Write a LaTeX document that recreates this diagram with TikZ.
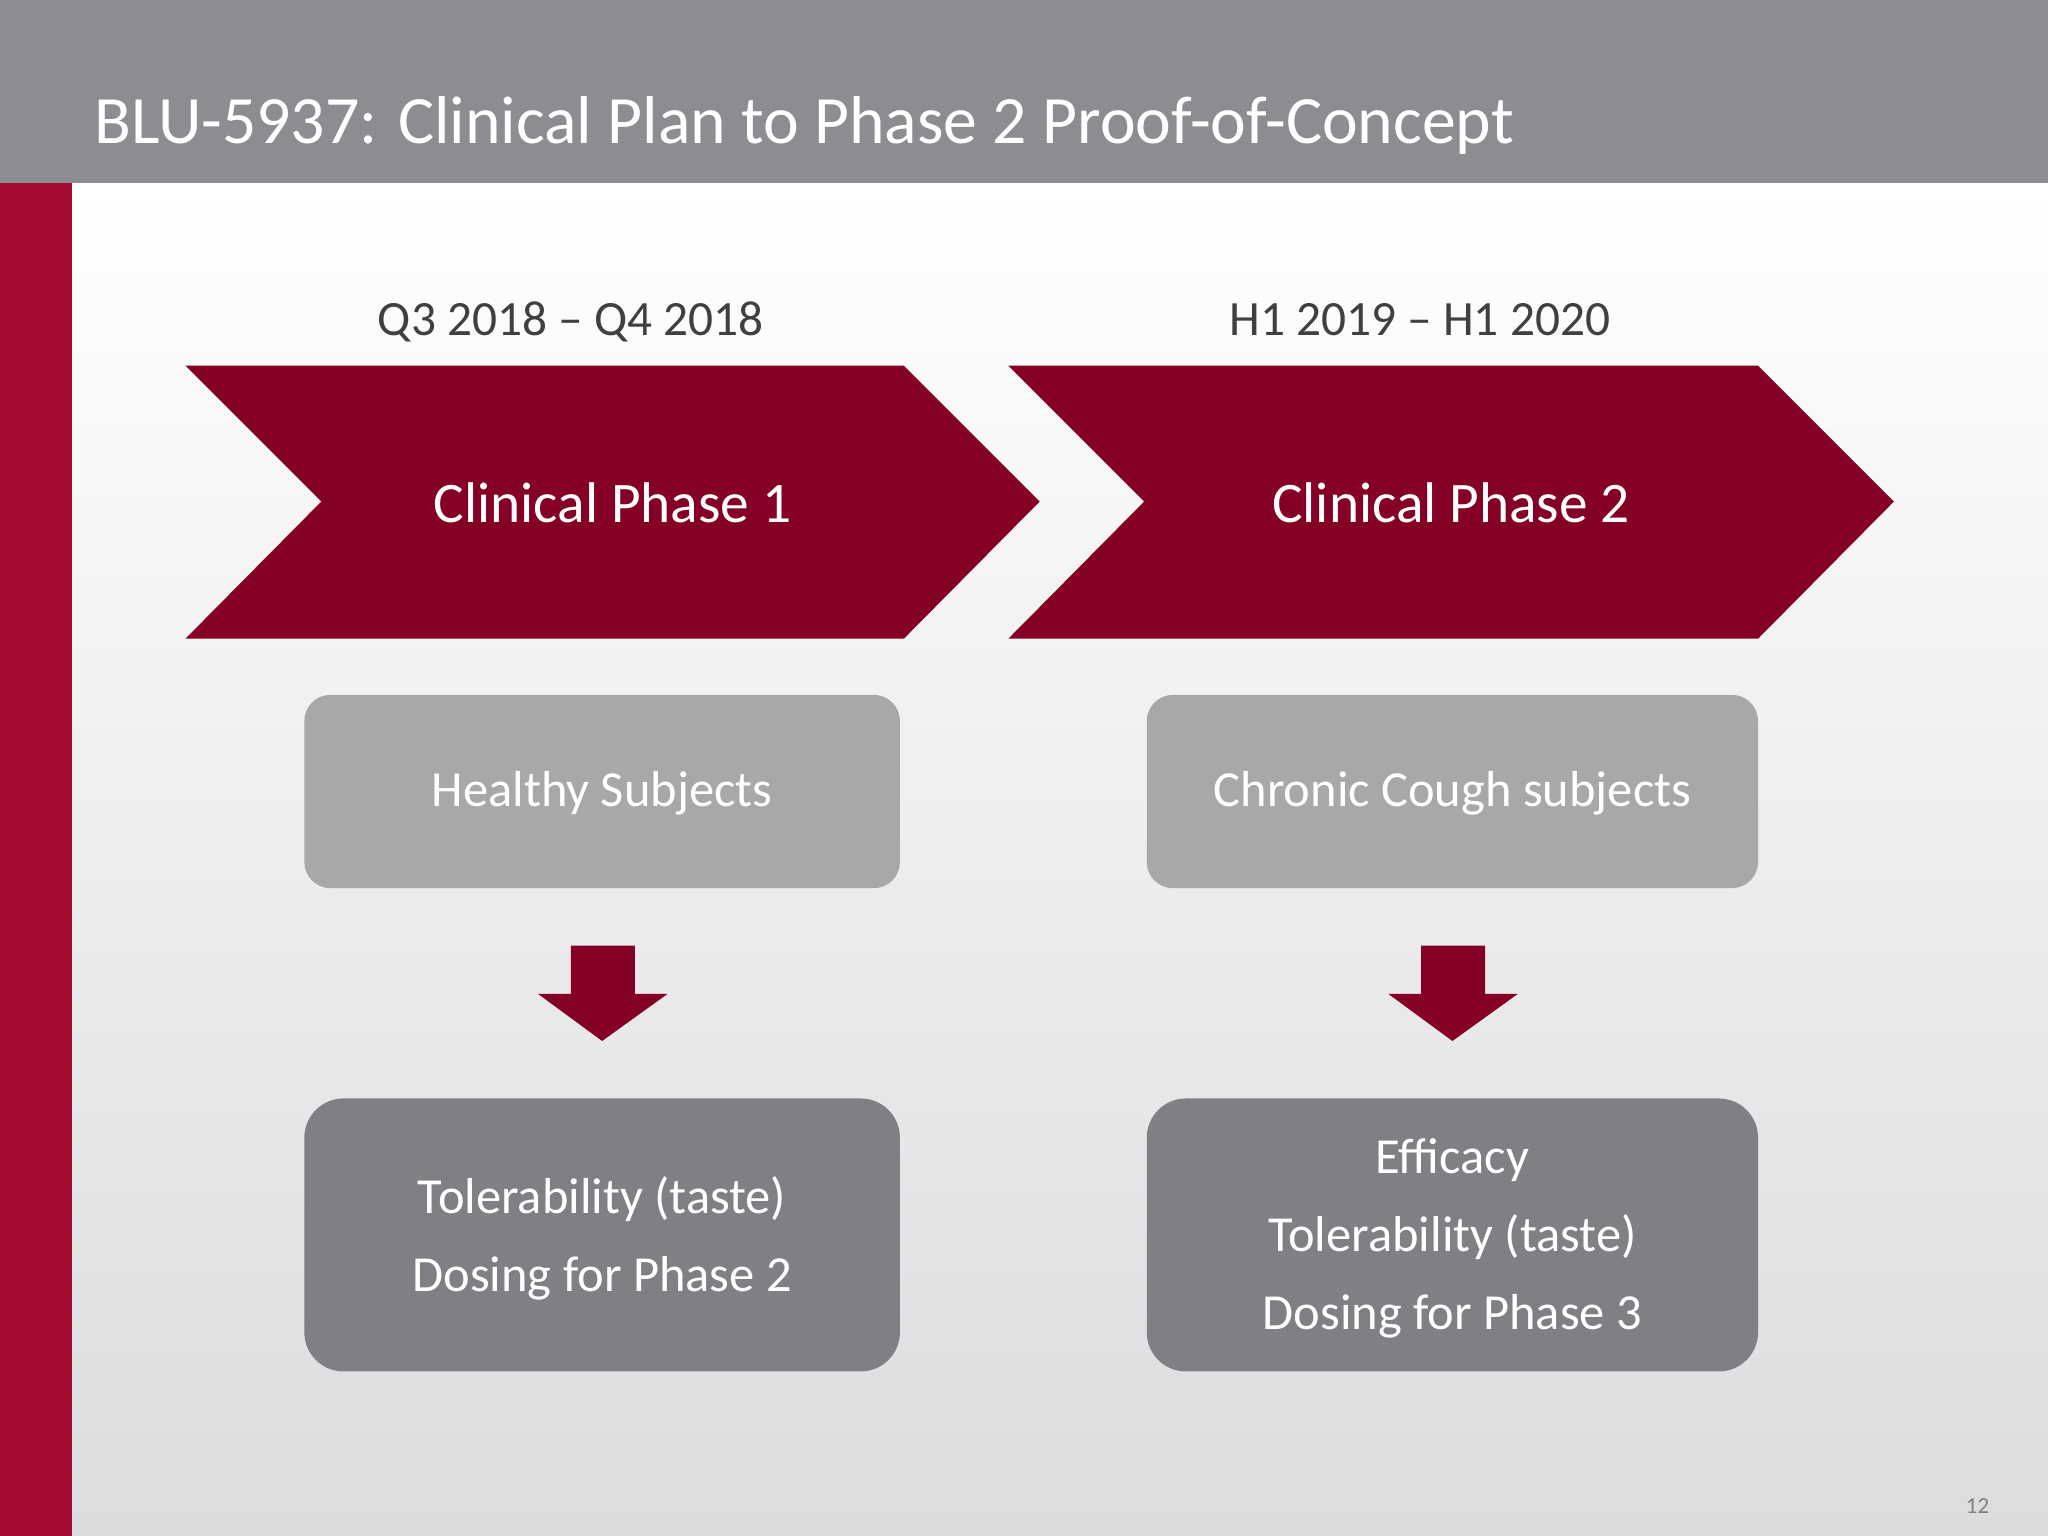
\documentclass[tikz,border=0pt]{standalone}
\usepackage{fontspec}
\setmainfont{Carlito}
\definecolor{hdr}{HTML}{8C8D91}
\definecolor{redbar}{HTML}{A50A30}
\definecolor{chev}{HTML}{840024}
\definecolor{boxa}{HTML}{A7A8AA}
\definecolor{boxb}{HTML}{807F83}
\definecolor{bgbot}{HTML}{DCDBDD}
\definecolor{txt}{HTML}{404040}
\begin{document}
\begin{tikzpicture}[x=0.02cm,y=-0.02cm,
  upbox/.style={fill=boxa,rounded corners=0.4cm,draw=none},
  lowbox/.style={fill=boxb,rounded corners=0.6cm,draw=none},
  boxtext/.style={text=white,font=\fontsize{22}{34}\selectfont,align=center},
  datetext/.style={text=txt,font=\fontsize{21.5}{26}\selectfont,anchor=base},
  phasetext/.style={text=white,font=\fontsize{25}{30}\selectfont}]
\useasboundingbox (0,0) rectangle (1568,1176);
\shade[top color=white,bottom color=bgbot] (0,140) rectangle (1568,1176);
\fill[hdr] (0,0) rectangle (1568,140);
\fill[redbar] (0,140) rectangle (55,1176);
\node[anchor=west,text=white,font=\fontsize{29.5}{36}\selectfont] (title) at (66,96) {BLU-5937: Clinical Plan to Phase 2 Proof-of-Concept};
\node[datetext] (d1) at (437,257) {Q3 2018 – Q4 2018};
\node[datetext] (d2) at (1087,257) {H1 2019 – H1 2020};
\fill[chev] (142,280) -- (692,280) -- (796,384) -- (692,489) -- (142,489) -- (246,384) -- cycle;
\fill[chev] (772,280) -- (1346,280) -- (1450,384) -- (1346,489) -- (772,489) -- (876,384) -- cycle;
\node[phasetext] (p1) at (469,385) {Clinical Phase 1};
\node[phasetext] (p2) at (1111,385) {Clinical Phase 2};
\fill[upbox] (233,532) rectangle (689,680);
\fill[upbox] (878,532) rectangle (1346,680);
\node[boxtext] (h1) at (461,607) {Healthy Subjects};
\node[boxtext] (h2) at (1112,607) {Chronic Cough subjects};
\fill[chev] (437,724) -- (486,724) -- (486,761) -- (511,761) -- (461,797) -- (412,761) -- (437,761) -- cycle;
\fill[chev] (1088,724) -- (1137,724) -- (1137,761) -- (1162,761) -- (1112,797) -- (1063,761) -- (1088,761) -- cycle;
\fill[lowbox] (233,841) rectangle (689,1050);
\fill[lowbox] (878,841) rectangle (1346,1050);
\node[boxtext] (l1) at (461,948) {Tolerability (taste)\\Dosing for Phase 2};
\node[boxtext] (l2) at (1112,948) {Efficacy\\Tolerability (taste)\\Dosing for Phase 3};
\node[text=gray,font=\fontsize{10}{12}\selectfont] (pg) at (1514,1153) {12};
\end{tikzpicture}
\end{document}
